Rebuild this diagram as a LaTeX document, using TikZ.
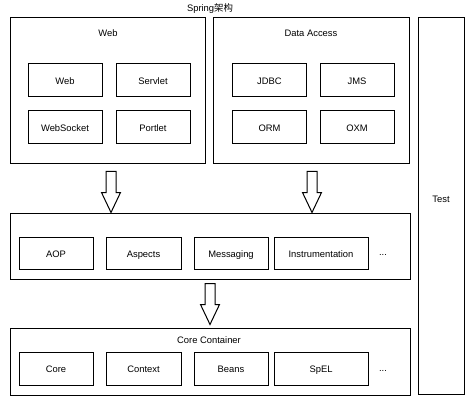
\documentclass[tikz,border=0pt]{standalone}
\usepackage{fontspec}
\setmainfont{Liberation Sans}
\newfontfamily\cjkfont{Noto Sans CJK SC}
\usepackage{tikz}
\usetikzlibrary{calc,positioning}

% hollow block arrow from one coordinate straight down to another
\newcommand{\blockarrow}[2]{%
  \draw[bigarrow] let \p1=(#1), \p2=(#2) in
    (\x1-5pt,\y1) -- (\x1+5pt,\y1) -- (\x1+5pt,\y2+20pt) -- (\x1+9.5pt,\y2+20pt)
    -- (\x1,\y2) -- (\x1-9.5pt,\y2+20pt) -- (\x1-5pt,\y2+20pt) -- cycle;}

\begin{document}
\begin{tikzpicture}[x=1pt,y=-1pt,
    font=\fontsize{9.4}{11}\selectfont,
    layer/.style={draw, line width=1pt, inner sep=0pt},
    module/.style={draw, line width=1pt, minimum width=74, minimum height=33, inner sep=1pt,
      text height=8.4pt, text depth=0pt},
    bigarrow/.style={draw, line width=1pt, fill=white, line join=miter}]
    \useasboundingbox (0,0) rectangle (474,401);

    \node (title) at (210,9) {Spring{\cjkfont 架构}};

    % Web
    \node[layer, minimum width=195, minimum height=146] (web) at (107.5,91) {};
    \node (weblabel) at (108,33) {Web};
    \node[module] (webmod) at (65,80.5) {Web};
    \node[module] (servlet) at (153,80.5) {Servlet};
    \node[module] (websocket) at (65,127.5) {WebSocket};
    \node[module] (portlet) at (153,127.5) {Portlet};

    % Data Access
    \node[layer, minimum width=196, minimum height=146] (data) at (311,91) {};
    \node (datalabel) at (311,33) {Data Access};
    \node[module] (jdbc) at (269.5,80.5) {JDBC};
    \node[module] (jms) at (357,80.5) {JMS};
    \node[module] (orm) at (269.5,127.5) {ORM};
    \node[module] (oxm) at (357,127.5) {OXM};

    % Test
    \node[layer, minimum width=46, minimum height=376] (test) at (441,206) {};
    \node (testlabel) at (441,199) {Test};

    % AOP layer
    \node[layer, minimum width=400, minimum height=66] (aop) at (210,246) {};
    \node[module, minimum height=32] (aopmod) at (56,253) {AOP};
    \node[module, minimum height=32, minimum width=75] (aspects) at (143.5,253) {Aspects};
    \node[module, minimum height=32] (messaging) at (231,253) {Messaging};
    \node[module, minimum height=32, minimum width=94] (instr) at (321,253) {Instrumentation};
    \node (aopmore) at (383,255) {...};

    % Core Container
    \node[layer, minimum width=400, minimum height=67] (core) at (210,361.5) {};
    \node (corelabel) at (209,340) {Core Container};
    \node[module] (coremod) at (56,368.5) {Core};
    \node[module, minimum width=75] (context) at (143.5,368.5) {Context};
    \node[module] (beans) at (231,368.5) {Beans};
    \node[module, minimum width=94] (spel) at (321,368.5) {SpEL};
    \node (coremore) at (383,371) {...};

    % Arrows between layers
    \coordinate (a1) at ($(web.south)+(3.5,7)$);
    \coordinate (a2) at ($(data.south)+(1,7)$);
    \coordinate (a3) at ($(aop.south)+(0,4)$);
    \coordinate (b1) at (a1 |- aop.north);
    \coordinate (b2) at (a2 |- aop.north);
    \coordinate (b3) at ($(a3 |- core.north)+(0,-3)$);
    \blockarrow{a1}{b1}
    \blockarrow{a2}{b2}
    \blockarrow{a3}{b3}
\end{tikzpicture}
\end{document}
